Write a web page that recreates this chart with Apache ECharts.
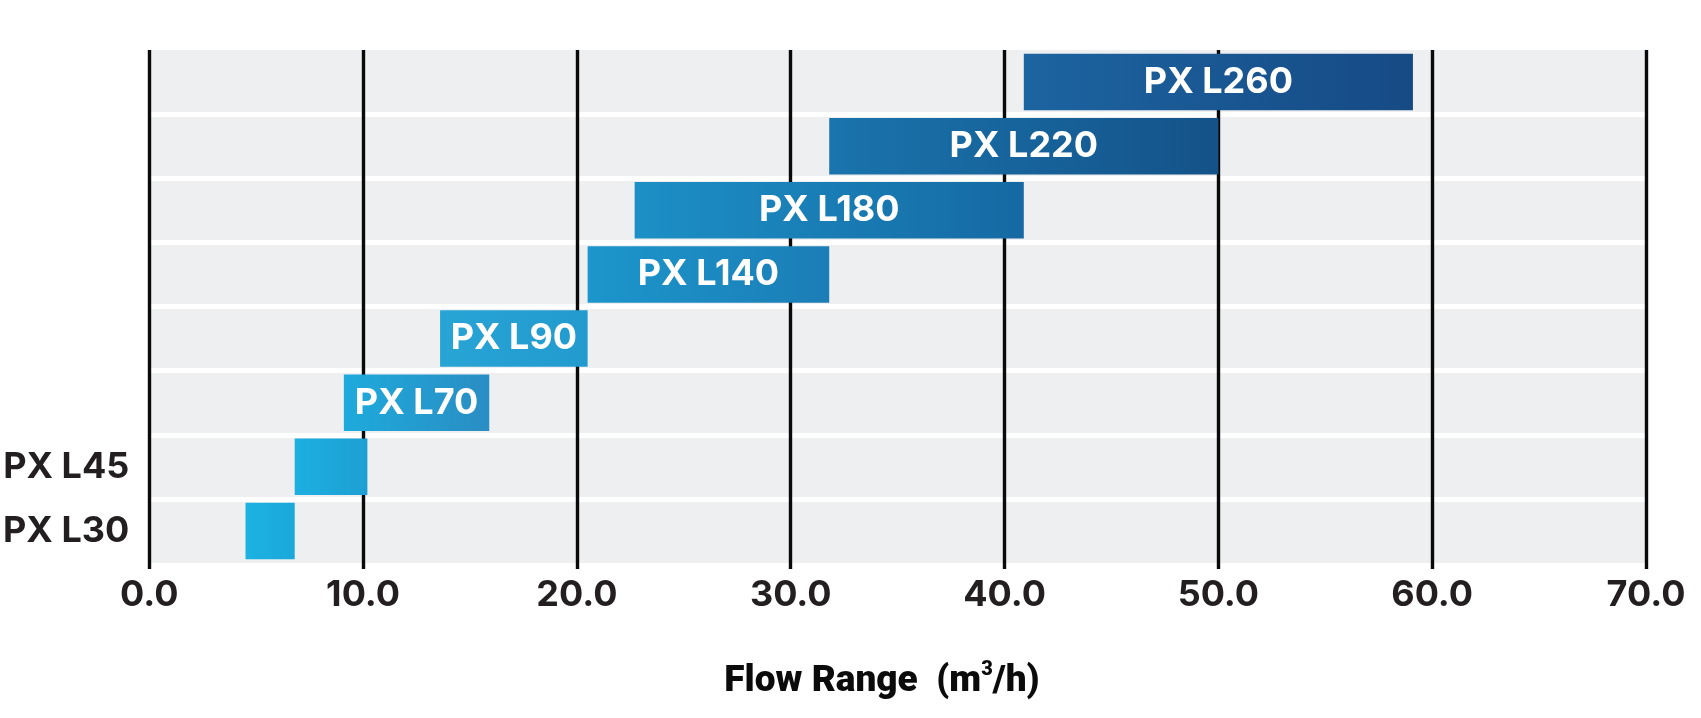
<!DOCTYPE html>
<html>
<head>
<meta charset="utf-8">
<script src="https://cdn.jsdelivr.net/npm/echarts@6/dist/echarts.min.js"></script>
<style>
  html, body { margin: 0; padding: 0; background: #ffffff; }
  #chart { width: 1701px; height: 718px; }
</style>
</head>
<body>
<div id="chart"></div>
<script>
// ---- data ----
const categories = ['PX L30', 'PX L45', 'PX L70', 'PX L90', 'PX L140', 'PX L180', 'PX L220', 'PX L260'];
const flowMin = [4.5, 6.8, 9.1, 13.6, 20.5, 22.7, 31.8, 40.9];
const flowMax = [6.8, 10.2, 15.9, 20.5, 31.8, 40.9, 50.0, 59.1];
const axisLabelCats = ['PX L30', 'PX L45'];   // names printed on the y axis instead of inside the bar
const xTicks = [0, 10, 20, 30, 40, 50, 60, 70];

// ---- styles ----
const barGradients = [
  ['#1cb2e1', '#1aa8da'],
  ['#1cafe0', '#1e9fd3'],
  ['#1eaadc', '#2a8dc3'],
  ['#28a4d5', '#229ace'],
  ['#1c96cb', '#1b7db6'],
  ['#1c90c6', '#1669a3'],
  ['#1a74ad', '#145289'],
  ['#1c64a0', '#164a85']
];

const chart = echarts.init(document.getElementById('chart'), null, { renderer: 'canvas' });

const baseData = flowMin.slice();
const spanData = flowMax.map((v, i) => ({
  value: +(v - flowMin[i]).toFixed(2),
  itemStyle: {
    color: new echarts.graphic.LinearGradient(0, 0, 1, 0, [
      { offset: 0, color: barGradients[i][0] },
      { offset: 1, color: barGradients[i][1] }
    ])
  },
  label: { show: axisLabelCats.indexOf(categories[i]) < 0 }
}));

chart.setOption({
  animation: false,
  backgroundColor: '#ffffff',
  title: {
    text: '{a|Flow Range  (m}{s|3}{a|/h)}',
    left: 877,
    top: 655,
    textAlign: 'center',
    textStyle: {
      rich: {
        a: { fontFamily: 'Roboto', fontWeight: 900, fontSize: 37, color: '#0b0b0b', lineHeight: 44 },
        s: { fontFamily: 'Roboto', fontWeight: 900, fontSize: 20, color: '#0b0b0b', verticalAlign: 'top', lineHeight: 30 }
      }
    }
  },
  grid: {
    left: 147, right: 55, top: 50, bottom: 155,
    show: true, backgroundColor: '#eeeff1', borderWidth: 0, z: 0
  },
  xAxis: {
    type: 'value',
    min: 0, max: 70, interval: 10,
    z: 2,
    axisLine: { show: false },
    axisTick: { show: true, length: 6, lineStyle: { color: '#0a0a0a', width: 3.4 } },
    splitLine: { show: true, lineStyle: { color: '#0a0a0a', width: 3.4 } },
    axisLabel: {
      margin: 14,
      fontFamily: 'Inter', fontWeight: 650, fontSize: 36, color: '#231f20',
      formatter: v => (xTicks.indexOf(v) >= 0 ? v.toFixed(1) : '')
    }
  },
  yAxis: {
    type: 'category',
    data: categories,
    z: 1,
    axisLine: { show: false },
    axisTick: { show: false },
    splitLine: { show: true, showMinLine: false, showMaxLine: false, lineStyle: { color: '#ffffff', width: 5 } },
    axisLabel: {
      margin: 20,
      fontFamily: 'Inter', fontWeight: 650, fontSize: 36, color: '#231f20',
      formatter: v => (axisLabelCats.indexOf(v) >= 0 ? v : '')
    }
  },
  series: [
    {
      name: 'base', type: 'bar', stack: 'flow', z: 5,
      barCategoryGap: '12%',
      itemStyle: { color: 'transparent' },
      emphasis: { disabled: true },
      data: baseData
    },
    {
      name: 'range', type: 'bar', stack: 'flow', z: 5,
      barCategoryGap: '12%',
      label: {
        show: true, position: 'inside',
        fontFamily: 'Inter', fontWeight: 650, fontSize: 36, color: '#ffffff',
        formatter: p => p.name
      },
      data: spanData
    }
  ]
});
</script>
</body>
</html>
